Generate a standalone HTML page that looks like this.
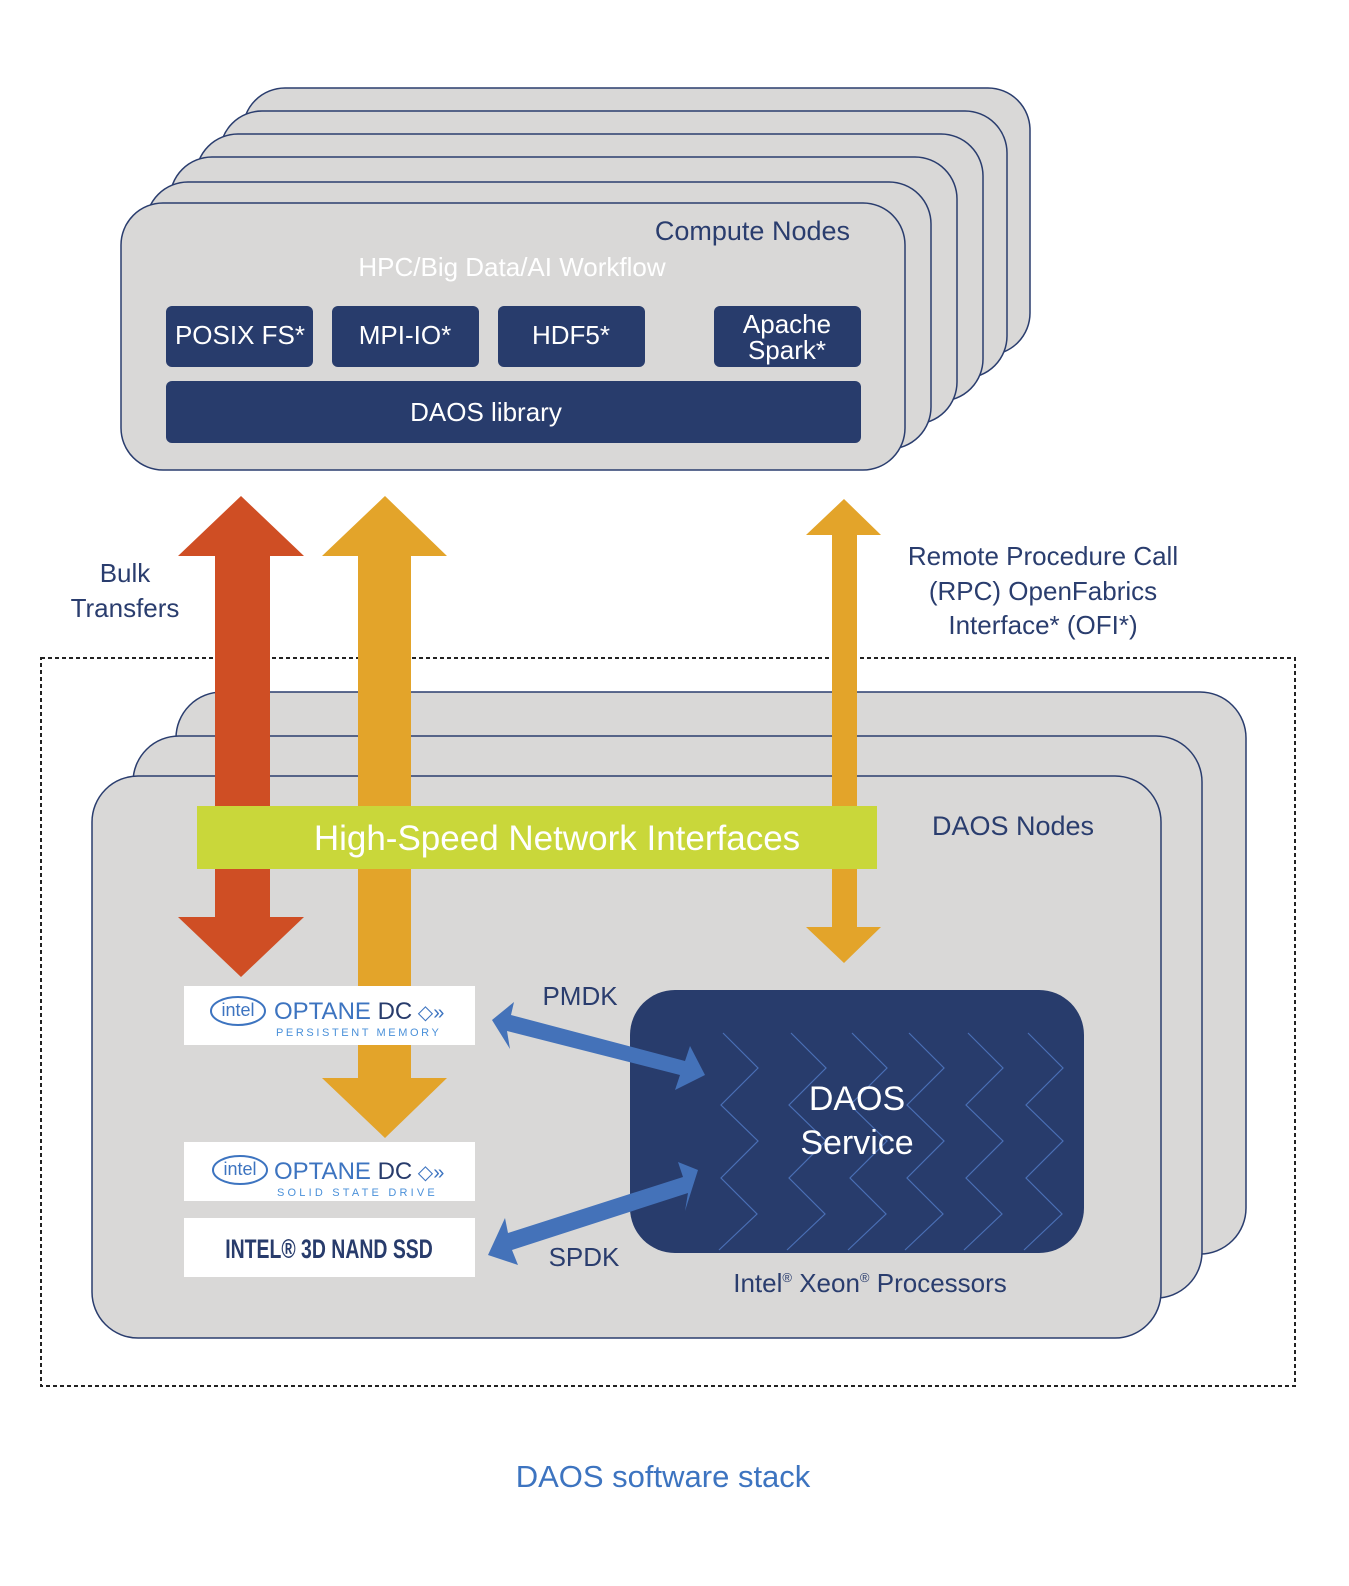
<!DOCTYPE html>
<html><head><meta charset="utf-8"><style>
html,body{margin:0;padding:0;background:#fff;}
svg{display:block;font-family:"Liberation Sans",sans-serif;}
</style></head><body>
<svg width="1349" height="1586" viewBox="0 0 1349 1586" xmlns="http://www.w3.org/2000/svg">
<g fill="#d9d8d7" stroke="#2a3d6e" stroke-width="1.5">
<rect x="243" y="88" width="787" height="267" rx="42"/>
<rect x="220" y="111" width="787" height="267" rx="42"/>
<rect x="196" y="134" width="787" height="267" rx="42"/>
<rect x="170" y="157" width="787" height="267" rx="42"/>
<rect x="146" y="182" width="785" height="267" rx="42"/>
<rect x="121" y="203" width="784" height="267" rx="42"/>
</g>
<text x="850" y="240" text-anchor="end" font-size="27" fill="#2a3d6e">Compute Nodes</text>
<text x="512" y="276" text-anchor="middle" font-size="26" fill="#fff">HPC/Big Data/AI Workflow</text>
<g fill="#283c6c">
<rect x="166" y="306" width="147" height="61" rx="6"/>
<rect x="332" y="306" width="147" height="61" rx="6"/>
<rect x="498" y="306" width="147" height="61" rx="6"/>
<rect x="714" y="306" width="147" height="61" rx="6"/>
<rect x="166" y="381" width="695" height="62" rx="6"/>
</g>
<g fill="#fff" font-size="26" text-anchor="middle">
<text x="240" y="344">POSIX FS*</text>
<text x="405" y="344">MPI-IO*</text>
<text x="571" y="344">HDF5*</text>
<text x="787" y="333">Apache</text>
<text x="787" y="359">Spark*</text>
<text x="486" y="421">DAOS library</text>
</g>

<rect x="41" y="658" width="1254" height="728" fill="none" stroke="#222" stroke-width="2" stroke-dasharray="4,3"/>
<g fill="#d9d8d7" stroke="#2a3d6e" stroke-width="1.5">
<rect x="176" y="692" width="1070" height="562" rx="46"/>
<rect x="133" y="736" width="1069" height="562" rx="46"/>
<rect x="92" y="776" width="1069" height="562" rx="46"/>
</g>

<text x="125" y="582" text-anchor="middle" font-size="26" fill="#2a3d6e">Bulk</text>
<text x="125" y="617" text-anchor="middle" font-size="26" fill="#2a3d6e">Transfers</text>
<g font-size="26" fill="#2a3d6e" text-anchor="middle">
<text x="1043" y="565">Remote Procedure Call</text>
<text x="1043" y="600">(RPC) OpenFabrics</text>
<text x="1043" y="634">Interface* (OFI*)</text>
</g>

<polygon fill="#cf4e24" points="241,496 304,556 270,556 270,917 304,917 241,977 178,917 215,917 215,556 178,556"/>
<polygon fill="#e3a42a" points="385,496 447,556 411,556 411,1078 447,1078 385,1138 322,1078 358,1078 358,556 322,556"/>
<polygon fill="#e3a42a" points="844,499 881,535 857,535 857,927 881,927 844,963 806,927 832,927 832,535 806,535"/>

<rect x="197" y="806" width="680" height="63" fill="#c9d73a"/>
<text x="557" y="850" text-anchor="middle" font-size="35" fill="#fff">High-Speed Network Interfaces</text>
<text x="1013" y="835" text-anchor="middle" font-size="27" fill="#2a3d6e">DAOS Nodes</text>

<rect x="630" y="990" width="454" height="263" rx="45" fill="#283c6c"/>
<g fill="none" stroke="#4a6fb5" stroke-width="1.2">
<polyline points="723,1033 758,1068 721,1105 758,1141 721,1178 757,1214 719,1250"/>
<polyline points="791,1033 826,1068 789,1105 826,1141 789,1178 825,1214 787,1250"/>
<polyline points="852,1033 887,1068 850,1105 887,1141 850,1178 886,1214 848,1250"/>
<polyline points="909,1033 944,1068 907,1105 944,1141 907,1178 943,1214 905,1250"/>
<polyline points="968,1033 1003,1068 966,1105 1003,1141 966,1178 1002,1214 964,1250"/>
<polyline points="1028,1033 1063,1068 1026,1105 1063,1141 1026,1178 1062,1214 1024,1250"/>
</g>
<text x="857" y="1110" text-anchor="middle" font-size="34" fill="#fff">DAOS</text>
<text x="857" y="1154" text-anchor="middle" font-size="34" fill="#fff">Service</text>

<g fill="#4472b9">
<polygon points="492,1020 514,1002 511,1015 685,1061 690,1046 705,1075 675,1090 680,1075 507,1031 510,1049"/>
<polygon points="488,1255 505,1218 508,1233 683,1177 678,1162 698,1170 685,1211 688,1193 512,1250 518,1265"/>
</g>
<text x="580" y="1005" text-anchor="middle" font-size="26" fill="#2a3d6e">PMDK</text>
<text x="584" y="1266" text-anchor="middle" font-size="26" fill="#2a3d6e">SPDK</text>
<text x="870" y="1292" text-anchor="middle" font-size="26" fill="#2a3d6e">Intel<tspan font-size="13" dy="-10">®</tspan><tspan dy="10"> Xeon</tspan><tspan font-size="13" dy="-10">®</tspan><tspan dy="10"> Processors</tspan></text>

<rect x="184" y="986" width="291" height="59" fill="#fff"/>
<rect x="184" y="1142" width="291" height="59" fill="#fff"/>
<rect x="184" y="1218" width="291" height="59" fill="#fff"/>
<g fill="none" stroke="#3d74c0" stroke-width="2">
<ellipse cx="238" cy="1011" rx="27" ry="14"/>
<ellipse cx="240" cy="1170" rx="27" ry="14"/>
</g>
<text x="238" y="1016" text-anchor="middle" font-size="18" fill="#3d74c0">intel</text>
<text x="240" y="1175" text-anchor="middle" font-size="18" fill="#3d74c0">intel</text>
<text x="274" y="1019" font-size="24" fill="#3d74c0">OPTANE<tspan fill="#283c6c"> DC</tspan><tspan font-size="20"> ◇»</tspan></text>
<text x="276" y="1036" font-size="11" letter-spacing="2.6" fill="#4a90d9">PERSISTENT MEMORY</text>
<text x="274" y="1179" font-size="24" fill="#3d74c0">OPTANE<tspan fill="#283c6c"> DC</tspan><tspan font-size="20"> ◇»</tspan></text>
<text x="277" y="1196" font-size="11" letter-spacing="3.2" fill="#4a90d9">SOLID STATE DRIVE</text>
<text x="329" y="1258" text-anchor="middle" font-size="27" font-weight="bold" fill="#283c6c" transform="translate(329 0) scale(0.72 1) translate(-329 0)">INTEL® 3D NAND SSD</text>

<text x="663" y="1487" text-anchor="middle" font-size="31" fill="#3d74c0">DAOS software stack</text>
</svg>
</body></html>
